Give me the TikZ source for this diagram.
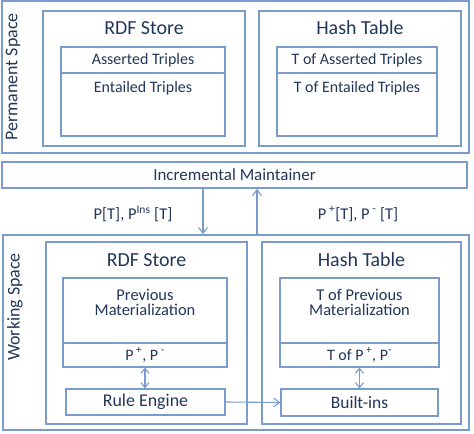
\documentclass[tikz,border=0pt]{standalone}
\usepackage{fontspec}
\setmainfont{Carlito}
\usetikzlibrary{arrows.meta}
\definecolor{ln}{HTML}{7B9BCC}
\definecolor{tx}{HTML}{22365A}
\tikzset{
  box/.style={draw=ln, line width=1.1pt, rectangle, inner sep=0pt, fill=white},
  obox/.style={draw=ln, line width=1.6pt, rectangle, inner sep=0pt},
  lbl/.style={text=tx, inner sep=0pt, align=center},
  arr/.style={draw=ln, line width=1.1pt, -{Straight Barb[length=6pt,width=9pt]}},
  darr/.style={draw=ln, line width=1.1pt, {Straight Barb[length=5pt,width=8pt]}-{Straight Barb[length=5pt,width=8pt]}},
}
\newcommand{\fs}[1]{\fontsize{#1}{#1}\selectfont}
\begin{document}
\begin{tikzpicture}[x=1bp,y=-1bp]
\useasboundingbox (0,0) rectangle (474,434);
% Permanent space
\node[obox, minimum width=467bp, minimum height=152bp] (ps) at (235.5,77) {};
\node[lbl, rotate=90] (psl) at (13,77) {\fs{18}Permanent Space};
\node[box, minimum width=202bp, minimum height=135bp] (prdf) at (144,78.5) {};
\node[lbl] (prdft) at (144,28) {\fs{20}RDF Store};
\node[box, minimum width=164bp, minimum height=26bp] (pas) at (143,60) {};
\node[lbl] (past) at (pas.center) {\fs{16}Asserted Triples};
\node[box, minimum width=164bp, minimum height=63bp] (pen) at (143,104.5) {};
\node[lbl] (pent) at (143,88) {\fs{16}Entailed Triples};
\node[box, minimum width=202bp, minimum height=135bp] (phash) at (360,78.5) {};
\node[lbl] (phasht) at (360,28) {\fs{20}Hash Table};
\node[box, minimum width=160bp, minimum height=26bp] (phas) at (357,60) {};
\node[lbl] (phast) at (phas.center) {\fs{16}T of Asserted Triples};
\node[box, minimum width=160bp, minimum height=63bp] (phen) at (357,104.5) {};
\node[lbl] (phent) at (357,88) {\fs{16}T of Entailed Triples};
% Incremental maintainer
\node[obox, minimum width=465bp, minimum height=26bp] (inc) at (234.5,175) {};
\node[lbl] (inct) at (inc.center) {\fs{17}Incremental Maintainer};
% Working space
\node[obox, minimum width=466bp, minimum height=195bp] (ws) at (236,332.5) {};
\node[lbl, rotate=90] (wsl) at (15,307) {\fs{18}Working Space};
\node[box, minimum width=201bp, minimum height=182bp] (wrdf) at (146.5,333) {};
\node[lbl] (wrdft) at (146.5,260) {\fs{20}RDF Store};
\node[box, minimum width=164bp, minimum height=65bp] (wprev) at (145,310.5) {};
\node[lbl] (wprevt) at (145,302.5) {\fs{16.5}Previous\\[3pt]\fs{16.5}Materialization};
\node[box, minimum width=164bp, minimum height=24bp] (wp) at (145,355) {};
\node[lbl] (wpt) at (wp.center) {\fs{16}P\,\textsuperscript{+}, P\,\textsuperscript{-}};
\node[box, minimum width=159bp, minimum height=26bp] (re) at (145.5,402) {};
\node[lbl] (ret) at (re.center) {\fs{18}Rule Engine};
\node[box, minimum width=199bp, minimum height=182bp] (whash) at (361.5,333) {};
\node[lbl] (whasht) at (361.5,260) {\fs{20}Hash Table};
\node[box, minimum width=159bp, minimum height=65bp] (whprev) at (359.5,310.5) {};
\node[lbl] (whprevt) at (359.5,302.5) {\fs{16.5}T of Previous\\[3pt]\fs{16.5}Materialization};
\node[box, minimum width=159bp, minimum height=24bp] (whp) at (359.5,355) {};
\node[lbl] (whpt) at (whp.center) {\fs{16}T of P\,\textsuperscript{+}, P\textsuperscript{-}};
\node[box, minimum width=157bp, minimum height=27bp] (bi) at (359.5,402.5) {};
\node[lbl] (bit) at (bi.center) {\fs{17.5}Built-ins};
% connectors
\coordinate (dx) at (203,0);
\coordinate (ux) at (257,0);
\draw[arr] (inc.south -| dx) -- (ws.north -| dx);
\draw[arr] (ws.north -| ux) -- (inc.south -| ux);
\node[lbl] (l1) at (133,214) {\fs{16.5}P[T], P\textsuperscript{Ins} [T]};
\node[lbl] (l2) at (358,214) {\fs{16.5}P\,\textsuperscript{+}[T], P\,\textsuperscript{-} [T]};
\draw[darr] (wp.south) -- (wp.south |- re.north);
\draw[darr] (whp.south) -- (whp.south |- bi.north);
\draw[arr] (re.east) -- (bi.west);
\end{tikzpicture}
\end{document}
